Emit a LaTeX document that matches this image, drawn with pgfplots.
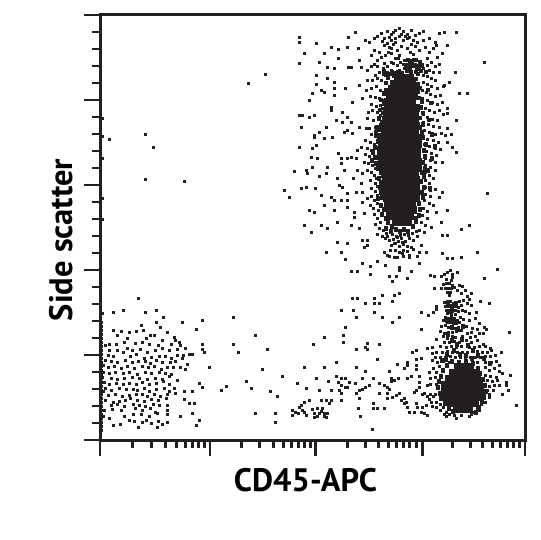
\documentclass[border=0pt]{standalone}
\usepackage{fontspec}
\setmainfont{PT Sans}
\usepackage{pgfplots}
\pgfplotsset{compat=1.18}
\definecolor{ink}{HTML}{231F20}
\begin{document}
\begin{tikzpicture}[x=1pt,y=1pt]
\path[use as bounding box] (-100,-100) rectangle (440,440);
\begin{axis}[
  at={(0,0)},anchor=south west,scale only axis,width=425pt,height=425pt,
  xmin=100.5,xmax=525.5,ymin=15,ymax=440,y dir=reverse,
  axis line style={line width=3pt,color=ink},
  clip=false,
  xtick={100.5,210.5,316,423,525.5},
  minor xtick={133,152,166,177,186,193,199,205,
    242,260,274,284,292,299,305,311,
    348,366,379,389,397,404,410,417,
    453,471,483,493,501,508,514,520},
  ytick={15,100,185,270,355,440},
  minor ytick={32,49,66,83,117,134,151,168,202,219,236,253,287,304,321,338,372,389,406,423},
  tick align=outside,
  xtick pos=lower,
  ytick pos=lower,
  major tick length=15.5pt,minor tick length=7.5pt,
  every major tick/.style={line width=2.7pt,color=ink},
  every minor tick/.style={line width=2.4pt,color=ink},
  xticklabels={},yticklabels={},
  xlabel={\fontsize{32.5}{36}\selectfont\bfseries CD45-APC},
  ylabel={\fontsize{32.5}{36}\selectfont\bfseries Side scatter},
  every axis x label/.style={at={(axis cs:306,480)},anchor=center},
  every axis y label/.style={at={(axis cs:62,240)},anchor=center,rotate=90},
]
% dense cores (pixel-read coordinates)
\addplot[only marks,mark=square*,mark size=3.4pt,color=ink,mark options={draw=none,fill=ink}] coordinates {
(398,78)(404,78)(410,78)
(394,84)(400,84)(406,84)(412,84)
(392,90)(398,90)(404,90)(410,90)(414,90)
(390,96)(396,96)(402,96)(408,96)(414,96)
(388,102)(394,102)(400,102)(406,102)(412,102)
(388,108)(394,108)(400,108)(406,108)(412,108)(416,108)
(387,114)(393,114)(399,114)(405,114)(411,114)(415,114)
(386,120)(392,120)(398,120)(404,120)(410,120)(415,120)
(386,126)(392,126)(398,126)(404,126)(410,126)(416,126)
(385,132)(391,132)(397,132)(403,132)(409,132)(415,132)
(384,138)(390,138)(396,138)(402,138)(408,138)(414,138)(418,138)
(382,144)(388,144)(394,144)(400,144)(406,144)(412,144)(418,144)
(381,150)(387,150)(393,150)(399,150)(405,150)(411,150)(417,150)
(381,156)(387,156)(393,156)(399,156)(405,156)(411,156)(417,156)
(382,162)(388,162)(394,162)(400,162)(406,162)(412,162)(418,162)
(384,168)(390,168)(396,168)(402,168)(408,168)(414,168)(418,168)
(385,174)(391,174)(397,174)(403,174)(409,174)(415,174)
(386,180)(392,180)(398,180)(404,180)(410,180)(416,180)
(386,186)(392,186)(398,186)(404,186)(410,186)(416,186)
(387,192)(393,192)(399,192)(405,192)(411,192)(416,192)
(387,198)(393,198)(399,198)(405,198)(411,198)(416,198)
(388,204)(394,204)(400,204)(406,204)(412,204)
(390,210)(396,210)(402,210)(408,210)(413,210)
(392,216)(398,216)(404,216)(410,216)
(396,222)(402,222)(408,222)
(458,367)(464,367)(470,367)
(453,373)(459,373)(465,373)(471,373)(475,373)
(449,379)(455,379)(461,379)(467,379)(473,379)(477,379)
(445,385)(451,385)(457,385)(463,385)(469,385)(475,385)(479,385)
(445,391)(451,391)(457,391)(463,391)(469,391)(475,391)(480,391)
(446,397)(452,397)(458,397)(464,397)(470,397)(476,397)(479,397)
(451,403)(457,403)(463,403)(469,403)(475,403)
(457,409)(463,409)(469,409)
};
% clumped events around the cores
\addplot[only marks,mark=square*,mark size=1.7pt,color=ink,mark options={draw=none,fill=ink}] coordinates {
(386,75)(390,74)(394,76)(384,71)(388,78)(386,83)(390,87)(384,94)(386,90)(381,100)(384,104)(380,110)(383,113)(379,118)(382,122)(377,127)(381,128)(376,132)(379,135)(378,141)(375,147)(373,152)(375,157)(372,160)(376,163)(378,168)(381,172)(379,178)(381,182)(380,187)(381,192)(382,197)(378,198)(381,205)(384,209)(382,214)(386,218)(388,213)(388,222)(392,226)(386,228)(391,231)(396,229)(400,231)(404,229)(408,231)(413,226)(416,221)(419,215)(416,218)(420,209)(419,203)(423,197)(422,192)(424,187)(421,181)(424,176)(422,172)(425,168)(423,162)(425,156)(424,150)(426,144)(423,137)(422,132)(420,127)(423,124)(420,118)(423,113)(421,108)(422,102)(419,98)(418,92)(420,88)(418,84)(416,79)(418,74)(421,71)
(408,60)(412,62)(416,60)(420,62)(406,66)(410,67)(414,66)(418,68)(422,66)(407,71)(411,72)(416,72)(398,72)(402,73)(392,72)(426,72)(428,90)(431,103)(429,120)(432,134)(435,146)(432,158)(428,170)(430,188)
(447,365)(443,370)(441,376)(439,381)(438,387)(440,393)(441,398)(445,403)(449,408)(453,411)(476,412)(479,407)(482,401)(484,396)(486,391)(485,385)(483,379)(480,373)(478,368)(473,363)(466,361)(459,362)(452,361)(446,359)
(448,303)(452,307)(456,303)(450,311)(447,320)(451,319)(455,322)(452,327)(458,329)(463,326)(448,334)(452,340)(457,344)(462,339)(468,345)(473,350)(454,350)(460,354)(447,354)(466,355)(472,358)(478,355)(484,358)(442,360)(490,363)
};
% individual events
\addplot[only marks,mark=square*,mark size=1.05pt,color=ink,mark options={draw=none,fill=ink}] coordinates {
(300,37)(300,42)(317,43)(305,53)(300,63)(349,37)(356,32)(332,47)(325,53)(339,49)(339,58)(348,47)(359,48)(320,62)(328,67)(335,68)(328,78)(317,75)(317,84)(335,82)(335,88)(346,88)(349,67)(352,67)(360,60)(362,67)(322,90)(313,93)(325,92)(335,95)(310,100)(332,110)(332,107)(353,102)(363,98)(360,85)(368,80)(367,90)(300,115)(303,115)(310,117)(315,115)(343,112)(348,117)(352,122)(337,120)(343,122)(302,127)(327,127)(315,135)(315,137)(320,132)(333,137)(345,132)(348,130)(353,133)(360,127)(367,128)(325,138)(300,147)(317,145)(313,148)(312,157)(318,158)(339,153)(342,158)(342,163)(348,158)(352,157)(358,150)(362,147)(357,158)(295,171)(307,170)(308,173)(320,176)(313,167)(328,167)(327,173)(345,170)(358,170)(338,178)(354,178)(363,173)(362,183)(285,190)(290,197)(302,188)(307,187)(316,188)(340,185)(343,187)(348,193)(357,192)(363,192)(322,195)(332,197)(335,200)(342,200)(348,200)(325,205)(348,207)(363,202)(368,198)(310,210)(315,212)(335,210)(355,212)(365,213)(355,217)(338,222)(305,225)(322,225)(328,228)(312,232)(352,225)(360,228)(363,240)(368,240)(338,242)(348,243)(365,247)(368,245)(327,252)(342,252)
(485,62)(488,193)(460,93)(468,93)(457,32)(445,32)(440,33)(448,45)(437,45)(443,53)(456,72)(450,82)(445,85)(448,108)(448,113)(457,120)(448,128)(452,134)(448,142)(453,147)(457,152)(443,162)(443,192)(440,197)(448,210)(437,212)(442,222)(470,225)(462,229)(448,235)(443,235)(478,252)(462,257)(453,258)(448,258)(443,253)
% top of main population
(375,38)(378,36)(382,33)(385,38)(388,31)(392,34)(396,30)(400,28)(404,31)(408,34)(412,30)(416,35)(420,33)(424,31)(392,40)(396,38)(400,36)(404,40)(408,38)(414,40)(418,42)(424,40)(430,38)(436,42)(370,42)(366,40)(385,45)(390,47)(394,44)(398,50)(402,46)(416,46)(420,50)(426,47)(430,52)(434,48)(438,57)(428,58)(375,50)(380,52)(386,55)(392,53)(396,58)(378,60)(385,63)(392,62)(372,55)(400,55)
(394,32)(402,34)(406,36)(410,37)(390,37)(383,41)(388,43)(396,42)(412,44)(408,48)(411,52)(414,54)(392,48)(389,52)(399,58)(394,63)(398,65)(401,62)(388,66)(382,57)(378,66)(375,64)
(405,60)(408,59)(411,60)(414,59)(417,60)(420,61)(404,64)(407,64)(410,63)(413,64)(416,64)(419,65)(423,64)(405,68)(408,69)(411,68)(417,68)(420,69)(424,68)(428,65)(432,62)(436,66)(440,64)(430,70)(434,72)(440,72)(384,68)(380,72)(376,75)(384,74)(388,72)(392,70)(396,72)(400,70)(372,66)(368,70)(373,80)(378,78)(382,80)(386,82)
% left fringe of main population
(372,88)(377,86)(381,90)(384,92)(371,96)(376,97)(380,98)(384,100)(372,104)(377,106)(381,105)(383,108)(369,112)(373,110)(378,112)(381,115)(368,118)(374,120)(379,119)(381,124)(370,128)(376,127)(380,130)(372,134)(376,136)(379,139)(366,140)(371,142)(375,144)(368,148)(372,150)(374,153)(366,154)(370,156)(373,159)(365,162)(369,163)(373,165)(376,168)(368,170)(372,172)(375,175)(377,178)(371,180)(376,183)(378,186)(372,188)(376,191)(378,195)(372,196)(375,200)(378,203)(371,205)(374,208)(379,210)(375,214)(378,218)(381,222)(376,224)(380,228)(384,230)(378,234)(383,236)(387,233)
% right fringe of main population
(424,75)(428,76)(432,78)(436,80)(424,82)(428,84)(432,86)(438,88)(444,86)(423,90)(427,92)(431,94)(436,96)(441,95)(423,98)(428,100)(433,102)(438,104)(443,102)(422,106)(426,108)(430,110)(435,112)(440,110)(444,114)(424,114)(428,117)(433,119)(438,120)(424,122)(429,124)(434,126)(440,127)(425,130)(430,132)(436,134)(442,133)(446,135)(424,136)(428,139)(434,140)(439,142)(425,144)(430,146)(436,148)(441,149)(427,151)(432,153)(437,155)(426,158)(431,160)(436,162)(426,165)(431,167)(436,170)(426,172)(430,175)(434,178)(426,180)(430,183)(426,187)(431,190)(436,189)(426,194)(431,196)(425,200)(430,203)(434,205)(424,208)(428,211)(423,215)(428,218)(422,222)(426,225)(432,227)(420,230)(425,232)
% bottom of main population
(386,238)(390,240)(394,239)(398,237)(402,238)(406,241)(410,238)(414,240)(418,236)(392,245)(396,243)(400,246)(404,244)(408,246)(412,247)(391,250)(396,250)(400,252)(404,250)(408,251)(414,249)(422,245)(420,252)(385,252)(390,256)(398,257)(404,256)(410,255)
(393,234)(397,236)(401,235)(405,234)(409,235)(413,233)(417,231)(388,236)(403,242)(399,241)(395,243)
% sparse middle and lower right
(346,259)(363,263)(371,266)(352,271)(358,271)(371,274)(378,261)(386,265)(400,267)(400,270)(390,276)(397,276)(393,281)(408,278)(412,271)(420,263)(395,257)(388,255)(403,253)(410,257)(418,256)(427,252)
(400,293)(395,295)(383,295)(375,298)(353,298)(358,298)(366,303)(380,303)(375,303)(393,301)(342,310)(354,310)(375,312)(357,317)(383,317)(400,317)(393,322)(346,327)(422,312)(422,329)(429,315)(434,312)(325,337)(344,335)(344,342)(314,344)(368,343)(366,347)(368,349)(380,344)(357,349)(378,359)(337,362)(305,367)(325,367)(357,367)(366,371)(398,364)(408,362)(408,365)(417,350)(413,352)(417,359)(422,358)(417,365)(417,369)(405,368)(390,371)(283,376)(317,378)(337,376)(342,378)(346,378)(363,378)(374,378)(392,378)(399,378)(408,378)(412,376)(420,376)(298,383)(329,381)(339,382)(342,385)(346,387)(350,382)(356,383)(380,383)(392,381)(395,380)(307,388)(320,390)(332,390)(340,390)(342,393)(348,387)(363,389)(366,387)(370,385)(360,390)(385,385)(388,387)(390,389)(380,393)(388,393)(357,393)(360,398)(342,400)(332,400)(393,397)(400,393)(397,395)(388,398)(405,398)(407,402)(415,392)(417,390)(420,382)(420,387)(423,394)(405,403)(402,400)(408,407)(410,412)(415,412)(418,407)(422,412)(425,413)(428,415)(423,407)(427,405)(417,403)(359,408)(361,416)(374,403)(374,408)(378,408)(385,408)(373,429)(517,405)(510,332)(498,269)(485,278)(490,303)(481,301)
(293,410)(293,415)(300,407)(303,410)(307,415)(315,413)(315,417)(318,408)(320,413)(323,408)(325,413)(328,413)(327,417)(305,402)(310,400)(322,400)(327,400)(330,403)(302,405)(313,409)(296,412)(299,413)(322,411)(318,416)(325,416)(305,412)
% lower right lobe
(445,274)(442,276)(448,272)(451,270)(453,274)(452,280)(458,272)(447,279)(453,277)(435,276)(431,275)
(444,284)(447,283)(450,283)(453,285)(446,288)(449,288)(452,288)(442,288)(435,288)(448,292)(451,292)(455,287)(460,285)(463,286)(466,290)(458,290)(472,293)(450,295)(468,296)(462,293)
(445,302)(448,301)(451,301)(454,303)(457,302)(460,301)(464,300)(470,299)(446,306)(449,306)(452,305)(456,306)(459,307)(462,305)(468,303)(472,305)(447,310)(450,310)(453,311)(456,310)(459,311)(463,310)(437,306)(448,313)(452,314)(456,314)(466,311)(470,313)(477,312)(437,309)
(444,320)(446,317)(449,318)(452,316)(455,318)(458,320)(461,317)(464,319)(448,322)(451,322)(454,323)(457,323)(460,322)(446,325)(442,326)(449,327)(452,327)(455,328)(459,327)(470,320)(476,318)(480,323)(467,326)(473,328)(478,329)(485,327)(487,329)(441,331)(445,333)(449,332)(453,332)(457,331)(462,330)(468,333)(472,332)(480,333)(484,333)(444,336)(448,338)(453,336)(456,337)(463,336)(471,337)(476,336)
(437,339)(445,342)(450,342)(455,341)(460,342)(467,340)(472,342)(478,340)(484,344)(441,346)(447,347)(452,346)(457,347)(462,346)(470,347)(475,347)(480,346)(486,346)(491,348)(433,347)(428,348)(443,352)(448,351)(453,352)(458,352)(463,352)(468,352)(473,351)(478,351)(483,352)(488,352)(492,350)(433,353)(437,352)(436,357)(441,357)(446,357)(451,356)(456,357)(461,357)(466,358)(471,357)(476,357)(481,357)(486,356)(491,356)(496,355)(433,360)(438,362)(444,361)(450,362)(466,362)(478,362)(486,362)(492,362)(497,361)(502,352)(500,365)
(434,368)(440,366)(437,372)(430,372)(431,378)(436,377)(431,384)(437,384)(428,385)(486,367)(490,370)(495,368)(500,371)(486,375)(491,376)(497,377)(503,373)(488,380)(493,381)(498,380)(507,382)(486,385)(490,386)(495,385)(500,385)(507,385)(488,390)(494,390)(503,394)(490,394)(485,398)(490,397)(486,402)(480,410)(482,404)(474,412)(478,408)(470,416)(462,415)(455,415)(450,414)(447,412)(444,407)(441,404)(437,402)(431,394)(434,396)(428,396)(425,393)(432,402)(433,406)(437,407)(441,410)(447,416)(436,394)(430,399)(445,414)(457,418)(472,414)(509,390)(511,375)
% upper left strays
(249,83)(266,74)(110,139)(146,134)(154,147)(146,179)(185,181)(103,118)(103,136)(103,158)(103,198)(103,219)
% left population
(139,298)(124,310)(114,312)(146,312)(157,310)(103,313)(164,317)(157,322)(161,327)(142,325)(183,322)(203,320)(197,329)(234,317)(256,335)(234,344)(239,352)(268,349)(263,369)(247,381)(252,388)(271,391)(278,396)(256,413)(276,413)(276,422)(227,386)(222,390)(210,367)(203,344)(203,349)(205,352)(200,383)(203,387)(193,391)(185,391)(195,403)(190,403)(193,413)(200,420)(197,425)(181,416)(185,399)(193,354)(190,354)
(114,330)(122,331)(130,332)(137,331)(144,330)(151,335)(168,332)(175,337)(118,335)(128,338)(147,338)(155,335)(163,340)(176,340)(180,342)(110,344)(117,344)(125,342)(136,343)(143,342)(150,344)(159,345)(163,348)(172,344)(181,345)(106,345)(110,350)(118,350)(128,348)(133,350)(141,349)(148,352)(156,350)(170,350)(178,349)(186,348)(109,355)(114,356)(124,352)(131,356)(137,354)(145,358)(152,357)(160,356)(166,356)(172,358)(178,355)(184,355)(106,360)(112,361)(118,362)(126,360)(133,362)(139,361)(146,361)(151,363)(157,360)(163,362)(171,362)(176,361)(183,358)(188,364)(104,365)(109,367)(115,366)(122,368)(128,366)(135,368)(143,366)(149,367)(155,366)(162,369)(168,367)(174,367)(181,367)(186,369)(104,372)(110,373)(116,372)(124,373)(130,372)(138,374)(146,372)(152,373)(160,372)(166,373)(172,374)(103,377)(112,378)(118,379)(125,378)(133,377)(140,378)(148,379)(156,378)(163,379)(170,376)(178,380)(105,382)(110,384)(117,383)(124,384)(130,383)(137,384)(143,382)(150,384)(157,383)(164,381)(170,384)(106,388)(112,390)(120,388)(127,389)(134,389)(138,390)(145,388)(150,391)(157,389)(165,388)(170,391)(175,388)(104,391)(109,395)(116,394)(123,396)(130,395)(137,394)(143,394)(148,396)(155,394)(161,396)(168,394)(176,393)(106,400)(114,402)(120,401)(126,400)(131,398)(138,400)(145,401)(152,399)(159,400)(167,398)(112,405)(118,404)(125,406)(134,404)(140,405)(146,406)(154,404)(160,405)(168,405)(105,410)(113,409)(122,410)(136,408)(143,410)(151,408)(156,412)(168,410)(104,416)(110,418)(125,416)(134,414)(142,414)(150,416)(158,413)(168,414)(114,425)(121,424)(130,420)(135,421)(143,422)(147,420)(152,423)(159,421)(163,424)(168,422)(139,427)(158,427)
(102,322)(102,326)(102,330)(102,334)(102,338)(102,342)(102,346)(102,350)(102,354)(102,358)(102,362)(102,366)(102,370)(102,374)(102,378)(102,382)(102,386)(102,390)(102,394)(102,398)(102,402)(102,406)(102,410)(102,414)(102,418)(102,422)(102,426)(102,430)
};
\end{axis}
\end{tikzpicture}
\end{document}
